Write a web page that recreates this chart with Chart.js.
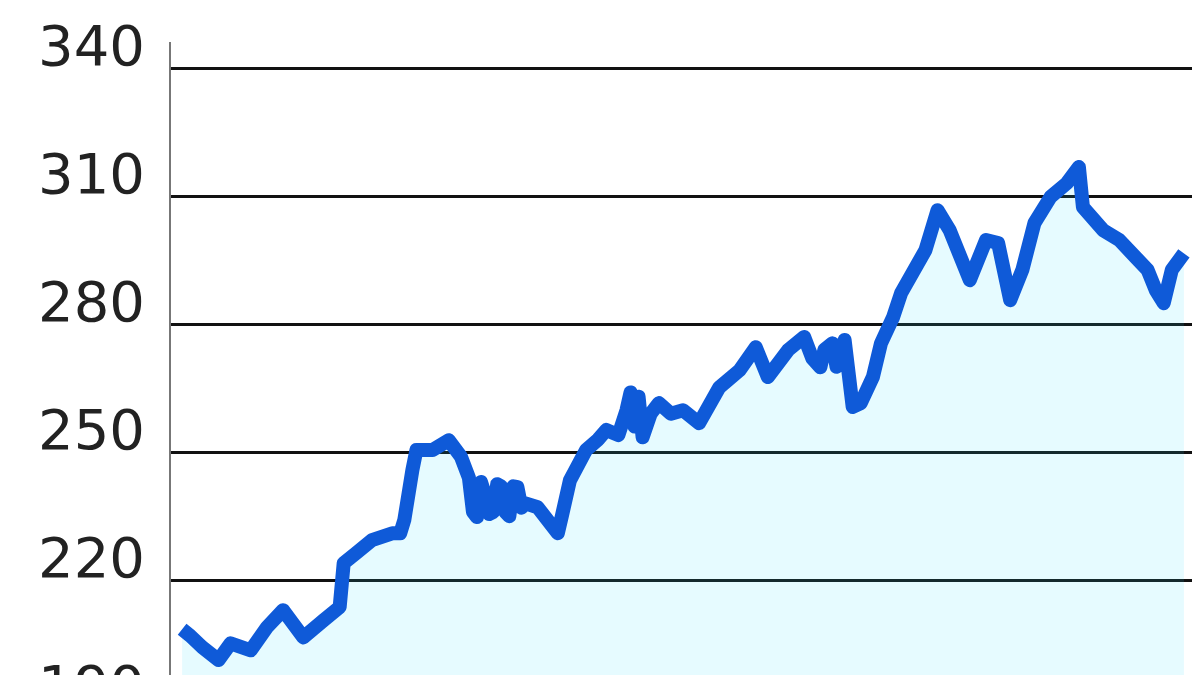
<!DOCTYPE html>
<html lang="en">
<head>
  <meta charset="UTF-8" />
  <title>Price chart</title>
  <script src="https://cdn.jsdelivr.net/npm/chart.js"></script>
  <style>
    html, body { margin: 0; padding: 0; background: #fff; overflow: hidden; }
    #wrap { position: relative; width: 1200px; height: 751px; }
  </style>
</head>
<body>
  <div id="wrap"><canvas id="priceChart"></canvas></div>

  <script>
    // trading day index (x) and closing price (y)
    const days = [3, 5, 8, 12, 15, 20, 24, 28, 33, 38, 42, 43, 46, 50, 55, 57, 58, 60, 61, 65,
                  69, 72, 74, 75, 76, 77, 78, 79, 80, 81, 82, 83, 84, 85, 86, 87, 88, 91, 96, 97,
                  99, 103, 106, 108, 111, 113, 114, 115, 116, 117, 119, 121, 124, 127, 131, 136, 141, 145, 148, 153,
                  157, 159, 161, 162, 164, 165, 167, 169, 171, 174, 176, 179, 181, 187, 190, 193, 198, 202, 205, 208,
                  211, 214, 218, 222, 225, 226, 231, 235, 239, 242, 244, 246, 248, 251];
    const prices = [208.5, 207, 204.3, 201.3, 205.2, 203.6, 209, 213, 206.6, 210.6, 213.7, 224, 226.3, 229.4, 231, 231, 234.1, 245.8, 250.5, 250.5,
                    252.8, 249, 244, 236, 234.8, 243, 240, 235.5, 236, 242.5, 242, 236, 235, 242, 241.8, 237, 238, 237.1, 231, 235,
                    243.4, 250.5, 253, 255.2, 254, 259.8, 264, 256, 263, 253.5, 259, 261.5, 259, 259.8, 256.8, 265.2, 269.2, 274.6, 267.6, 273.9,
                    277, 272, 269.9, 274, 275.5, 270, 276.3, 260.6, 261.5, 267.6, 275.5, 281.6, 287.3, 297.3, 306.7, 302, 290.3, 299.7, 299, 285.6,
                    292.7, 303.7, 309.8, 313, 316.8, 307.4, 302, 299.7, 295.7, 292.7, 288, 284.9, 292.7, 296.6];
    const yTicks = [190, 220, 250, 280, 310, 340];

    const ctx = document.getElementById("priceChart").getContext("2d");

    new Chart(ctx, {
      type: 'line',
      data: {
        datasets: [{
          data: days.map((d, i) => ({ x: d, y: prices[i] })),
          borderColor: '#0f5ad8',
          borderWidth: 14,
          borderJoinStyle: 'round',
          backgroundColor: 'rgba(47, 222, 255, 0.12)',
          fill: 'start',
          pointRadius: 0,
          tension: 0
        }]
      },
      options: {
        responsive: true,
        maintainAspectRatio: false,
        animation: false,
        layout: { padding: { top: 43, right: 8, bottom: 0, left: 0 } },
        plugins: {
          legend: { display: false },
          tooltip: { enabled: false }
        },
        scales: {
          x: { type: 'linear', min: 0, max: 253, display: false },
          y: {
            min: 180,
            max: 345.86,
            afterBuildTicks: axis => { axis.ticks = yTicks.map(v => ({ value: v })); },
            afterFit: axis => {
              axis.width = 170;
              axis.paddingTop = 0;
              axis.paddingBottom = 0;
            },
            grid: { color: '#111', lineWidth: 3, drawTicks: false },
            border: { color: '#777', width: 2 },
            ticks: {
              font: { family: 'DejaVu Sans', size: 56 },
              color: '#222',
              padding: 25,
              labelOffset: -18
            }
          }
        }
      }
    });
  </script>
</body>
</html>
